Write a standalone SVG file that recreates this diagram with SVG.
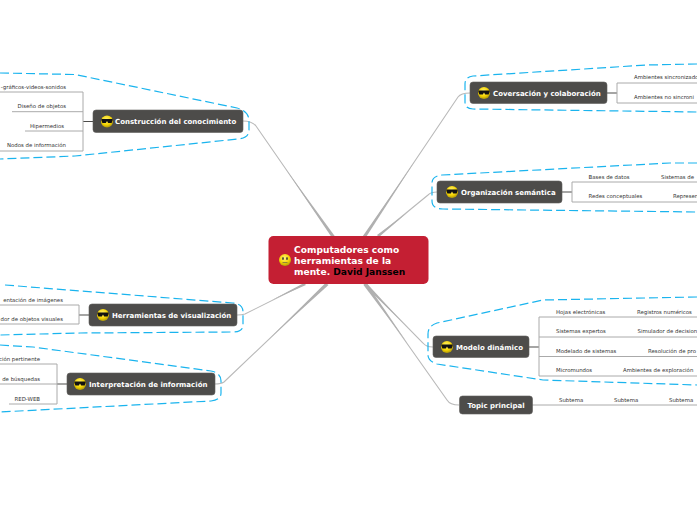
<svg xmlns="http://www.w3.org/2000/svg" width="697" height="520" viewBox="0 0 697 520">
<style>
text{font-family:"DejaVu Sans","Liberation Sans",sans-serif}
.n{fill:#4d4c4a;stroke:#5f5e5c;stroke-width:.6}
.t{fill:#fff;font-size:7px;font-weight:700}
.s{fill:#333;font-size:5.4px}
.b{fill:none;stroke:#1ab4ee;stroke-width:1.2;stroke-dasharray:9 4}
.c{fill:none;stroke:#b9b9b9;stroke-width:1.1}
.k{fill:#b0b0b0}
.l{fill:none;stroke:#aaa;stroke-width:1}
.d{fill:none;stroke:#4d4c4a;stroke-width:1.2}
</style>
<defs>
<radialGradient id="y" cx=".45" cy=".35" r=".7"><stop offset="0" stop-color="#fff27a"/><stop offset=".6" stop-color="#f5d400"/><stop offset="1" stop-color="#9c8a10"/></radialGradient>
<g id="cool"><circle r="6" fill="url(#y)"/><path d="M-5.6-2.4H5.6V-1L4.6 1.6H1.2L0-.6-1.2 1.6H-4.6L-5.6-1Z" fill="#111"/></g>
<g id="smile"><circle r="6" fill="url(#y)"/><ellipse cx="-2" cy="-1.500" rx=".8" ry="1.600" fill="#333"/><ellipse cx="2" cy="-1.500" rx=".8" ry="1.600" fill="#333"/><path d="M-2.500 2.600H2.500" stroke="#555" stroke-width=".7"/></g>
</defs>
<g id="connectors">
<path class="c" d="M335 240L256 126Q252 121 243 121"/><polygon class="k" points="333.500,240 336.500,238.500 285,168"/>
<path class="c" d="M363 238L458 97Q461 93 470 93"/><polygon class="k" points="361.500,238 364.500,239.500 415,161"/>
<path class="c" d="M378 236L428 195Q431 192 437 192"/><polygon class="k" points="377,235 379,237 408,212"/>
<path class="c" d="M305 284L245 314Q242 315 237 315"/><polygon class="k" points="304,283 306,285 272,300"/>
<path class="c" d="M327 284L224 382Q221 384 215 384"/><polygon class="k" points="325.500,283 328.500,285 270,338"/>
<path class="c" d="M365 284L423 343Q426 347 433 347"/><polygon class="k" points="363.500,284.500 366.500,283 404,324"/>
<path class="c" d="M365 284L447 400Q450 405 459 405"/><polygon class="k" points="363.500,285 366.500,283 408,344"/>
<path class="d" d="M83 121.500H93M79 315H89M57 384H67M607 93H617M562 192H572M529 347H539"/>
<path class="l" d="M0 92H83V151H0M12 111.700H83M25 131H83"/>
<path class="l" d="M0 305H79V324H0"/>
<path class="l" d="M0 364H57V404H9M0 384H57"/>
<path class="l" d="M697 83H617V103H697"/>
<path class="l" d="M697 182H572V202H697"/>
<path class="l" d="M697 317H539V376H697M539 337H697M539 356.500H697"/>
<path class="l" d="M532 405H697"/>
</g>
<g id="boundaries">
<path class="b" d="M0 73L75 74.500L237 108Q249 111 249 121V130Q249 138 238 139L75 156L0 159"/>
<path class="b" d="M5 285L233 303Q243 304 243 312V325Q243 332 233 332L80 333L0 335"/>
<path class="b" d="M0 345L33 347L211 371Q221 373 221 381V393Q221 400 211 401L0 412"/>
<path class="b" d="M697 64L647 65L473 76Q465 77 465 84V102Q465 109 473 109L697 112"/>
<path class="b" d="M697 163L670 163L442 175Q432 176 432 183V201Q432 209 443 209L697 212"/>
<path class="b" d="M697 297L543 300L437 323Q428 326 428 334V355Q428 361 437 364L543 380L697 385"/>
</g>
<g id="central"><rect x="268.500" y="236" width="160" height="48" rx="5" fill="#c41f33"/><use href="#smile" x="285" y="260"/>
<text x="294" y="253" fill="#fff" font-size="9.100" font-weight="700">Computadores como</text>
<text x="294" y="264" fill="#fff" font-size="9.100" font-weight="700">herramientas de la</text>
<text x="294" y="275" fill="#fff" font-size="9.100" font-weight="700">mente. <tspan fill="#000">David Janssen</tspan></text></g>
<g id="construccion"><rect class="n" x="93" y="110" width="150" height="22.500" rx="3"/><use href="#cool" x="107" y="121.500"/><text class="t" x="115" y="124">Construcción del conocimiento</text>
<text class="s" text-anchor="end" x="66" y="89">-gráficos-videos-sonidos</text><text class="s" text-anchor="end" x="66" y="108">Diseño de objetos</text><text class="s" text-anchor="end" x="64" y="128">Hipermedios</text><text class="s" text-anchor="end" x="66" y="147">Nodos de información</text></g>
<g id="herramientas"><rect class="n" x="89" y="304" width="148" height="22" rx="3"/><use href="#cool" x="103" y="315"/><text class="t" x="112" y="318">Herramientas de visualización</text>
<text class="s" text-anchor="end" x="63" y="302">entación de imágenes</text><text class="s" text-anchor="end" x="63" y="321">dor de objetos visuales</text></g>
<g id="interpretacion"><rect class="n" x="67" y="373" width="148" height="22" rx="3"/><use href="#cool" x="80" y="384"/><text class="t" x="89" y="387">Interpretación de información</text>
<text class="s" text-anchor="end" x="40" y="361">ción pertinente</text><text class="s" text-anchor="end" x="40" y="381">de búsquedas</text><text class="s" text-anchor="end" x="40" y="401">RED-WEB</text></g>
<g id="conversacion"><rect class="n" x="470" y="82" width="137" height="21.500" rx="3"/><use href="#cool" x="484" y="93"/><text class="t" x="493" y="96">Coversación y colaboración</text>
<text class="s" x="634" y="78.500">Ambientes sincronizado</text><text class="s" x="634" y="98.500">Ambientes no sincroni</text></g>
<g id="organizacion"><rect class="n" x="437" y="181" width="125" height="22" rx="3"/><use href="#cool" x="452" y="192"/><text class="t" x="461" y="195">Organización semántica</text>
<text class="s" x="588.500" y="179">Bases de datos</text><text class="s" x="661" y="179">Sistemas de</text><text class="s" x="588.500" y="198">Redes conceptuales</text><text class="s" x="673" y="198">Represen</text></g>
<g id="modelo"><rect class="n" x="433" y="336" width="96" height="21.500" rx="3"/><use href="#cool" x="447" y="347"/><text class="t" x="456" y="350">Modelo dinámico</text>
<text class="s" x="556" y="314">Hojas electrónicas</text><text class="s" x="637" y="314">Registros numéricos</text><text class="s" x="556" y="333">Sistemas expertos</text><text class="s" x="637.500" y="333">Simulador de decision</text><text class="s" x="556" y="353">Modelado de sistemas</text><text class="s" x="648" y="353">Resolución de pro</text><text class="s" x="556" y="372">Micromundos</text><text class="s" x="623" y="372">Ambientes de exploración</text></g>
<g id="topic"><rect class="n" x="459.500" y="396" width="73" height="18" rx="3"/><text class="t" text-anchor="middle" x="496" y="408">Topic principal</text>
<text class="s" x="559" y="402">Subtema</text><text class="s" x="614" y="402">Subtema</text><text class="s" x="669" y="402">Subtema</text></g>
</svg>
